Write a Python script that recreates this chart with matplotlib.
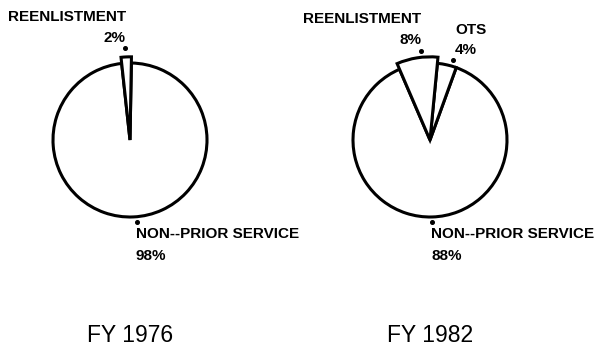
import matplotlib
matplotlib.use('Agg')
import matplotlib.pyplot as plt

# accession source shares, percent
years = ['FY 1976', 'FY 1982']
sources_1976 = ['REENLISTMENT', 'NON--PRIOR SERVICE']
shares_1976 = [2, 98]
sources_1982 = ['REENLISTMENT', 'NON--PRIOR SERVICE', 'OTS']
shares_1982 = [8, 88, 4]

W, H = 601, 351
fig = plt.figure(figsize=(W / 100, H / 100), dpi=100)
ax = fig.add_axes([0, 0, 1, 1])

R = 77
wedge_style = dict(facecolor='white', edgecolor='black', linewidth=2.2)
label_font = dict(family='Liberation Sans', weight='bold', fontsize=11,
                  color='black')


def draw_pie(cx, shares, start):
    # y axis is flipped, so counterclockwise on screen means clock order here
    wedges, _ = ax.pie(shares, center=(cx, 140), radius=R,
                       startangle=-start, counterclock=False,
                       wedgeprops=wedge_style, frame=True)
    # the reenlistment slice is drawn a bit larger than the base circle
    wedges[0].set_radius(R * 1.08)
    wedges[0].set_zorder(3)
    return wedges


draw_pie(130, shares_1976, 89)
draw_pie(430, shares_1982, 84.5)
ax.set_xlim(0, W)
ax.set_ylim(H, 0)
ax.set_aspect('equal')
ax.axis('off')


def label(x, y, text, ha='left'):
    ax.text(x, y, text, ha=ha, va='center', **label_font)


def dot(x, y):
    ax.plot(x, y, 'o', color='black', markersize=2.6)


# FY 1976
label(8, 17, sources_1976[0])
label(125, 38, f'{shares_1976[0]}%', ha='right')
dot(125, 48)
dot(137, 222)
label(136, 234, sources_1976[1])
label(136, 256, f'{shares_1976[1]}%')

# FY 1982
label(303, 19, sources_1982[0])
label(421, 40, f'{shares_1982[0]}%', ha='right')
dot(421, 51)
label(455, 30, sources_1982[2])
label(455, 50, f'{shares_1982[2]}%')
dot(453, 60)
dot(432, 222)
label(431, 234, sources_1982[1])
label(431, 256, f'{shares_1982[1]}%')

for cx, year in zip([130, 430], years):
    ax.text(cx, 336, year, ha='center', va='center',
            family='Liberation Sans', fontsize=16.5, color='black')

fig.savefig('out.png', dpi=100, facecolor='white')
